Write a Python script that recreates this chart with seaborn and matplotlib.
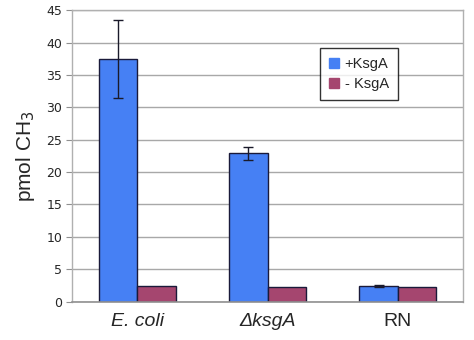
import matplotlib
matplotlib.use("Agg")
import matplotlib.pyplot as plt
import seaborn as sns
import pandas as pd
import numpy as np

categories = ["E. coli", "\u0394ksgA", "RN"]
tick_labels = ["E. coli", "\u0394ksgA", "RN"]
plus_ksga = [37.5, 22.9, 2.4]
plus_err = [6.0, 1.0, 0.1]
minus_ksga = [2.4, 2.3, 2.3]
minus_err = [0.0, 0.0, 0.0]
series = ["+KsgA", "- KsgA"]
colors = ["#4680f4", "#a5466f"]

df = pd.DataFrame({
    "cat": categories * 2,
    "val": plus_ksga + minus_ksga,
    "err": plus_err + minus_err,
    "series": [series[0]] * 3 + [series[1]] * 3,
})

sns.set_style("white")
plt.rcParams["font.family"] = ["Liberation Sans", "DejaVu Sans"]

fig = plt.figure(figsize=(4.74, 3.40), dpi=100)
ax = fig.add_axes([0.152, 0.113, 0.825, 0.857])

sns.barplot(data=df, x="cat", y="val", hue="series", palette=colors,
            width=0.59, errorbar=None, edgecolor="#1a1a3a", linewidth=1.0,
            ax=ax, order=categories, hue_order=series, saturation=1)

# error bars from bar patches
bars = [p for p in ax.patches if p.get_height() > 0]
errs = plus_err + minus_err
for p, e in zip(bars, errs):
    if e > 0:
        xc = p.get_x() + p.get_width() / 2
        ax.errorbar(xc, p.get_height(), yerr=e, fmt="none", ecolor="#1a1a2a",
                    elinewidth=1.0, capsize=3.5, capthick=1.0, zorder=5)

ax.set_xlim(-0.5, 2.5)
ax.set_ylim(0, 45)
ax.set_yticks(np.arange(0, 46, 5))
ax.yaxis.grid(True, color="#a8a8a8", linewidth=1.0)
ax.set_axisbelow(True)
for s in ["left", "right", "top"]:
    ax.spines[s].set_color("#b0b0b0")
    ax.spines[s].set_linewidth(1.0)
ax.spines["bottom"].set_color("#909090")
ax.spines["bottom"].set_linewidth(1.2)

ax.tick_params(axis="y", length=4, color="#909090", labelsize=9, pad=3, left=True)
ax.tick_params(axis="x", length=0, pad=8)
for t in ax.get_yticklabels():
    t.set_family("DejaVu Sans")
ax.set_xticks(range(3))
ax.set_xticklabels(tick_labels, fontsize=14)
labs = ax.get_xticklabels()
labs[0].set_style("italic")
labs[1].set_style("italic")
ax.set_xlabel("")
ax.set_ylabel("pmol CH$_3$", fontsize=15, labelpad=7)

handles = [plt.Rectangle((0, 0), 1, 1, color=c) for c in colors]
leg = ax.legend(handles, series, loc="upper left", bbox_to_anchor=(0.615, 0.895),
                fontsize=10.5, frameon=True, fancybox=False, edgecolor="black",
                handlelength=0.7, handleheight=0.7, handletextpad=0.4,
                borderpad=0.6, labelspacing=0.45)
leg.get_frame().set_linewidth(1.0)

fig.savefig("out.png", dpi=100)
